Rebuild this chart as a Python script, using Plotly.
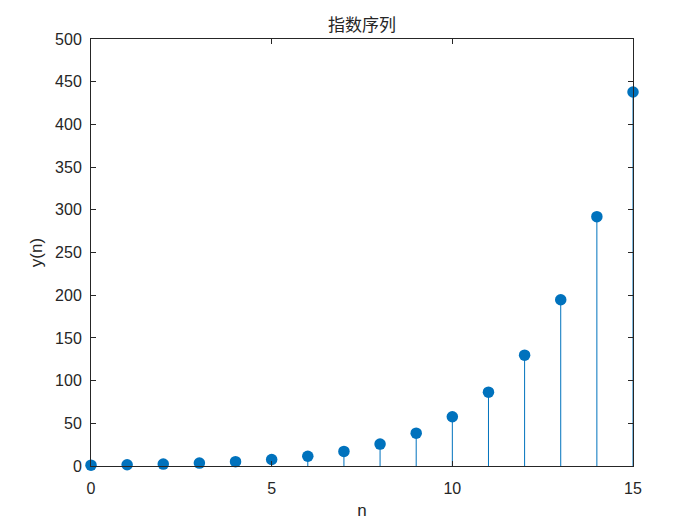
import plotly.graph_objects as go

n_vals = list(range(16))
y_vals = [1.0, 1.5, 2.25, 3.38, 5.06, 7.59, 11.39, 17.09, 25.63, 38.44,
          57.67, 86.5, 129.75, 194.62, 291.93, 437.89]
x_ticks = [0, 5, 10, 15]
y_ticks = [0, 50, 100, 150, 200, 250, 300, 350, 400, 450, 500]

color = "#0072BD"
stem_x, stem_y = [], []
for xv, yv in zip(n_vals, y_vals):
    stem_x += [xv, xv, None]
    stem_y += [0, yv, None]

fig = go.Figure()
fig.add_trace(go.Scatter(x=stem_x, y=stem_y, mode="lines",
                         line=dict(color=color, width=1), hoverinfo="skip",
                         showlegend=False, cliponaxis=False))
fig.add_trace(go.Scatter(x=n_vals, y=y_vals, mode="markers",
                         marker=dict(color=color, size=11.5), showlegend=False,
                         cliponaxis=False))

font_name = "Liberation Sans, Arial"
axis_common = dict(showline=True, linecolor="#262626", linewidth=1, mirror="ticks",
                   ticks="inside", ticklen=5, tickcolor="#262626", showgrid=False,
                   zeroline=False, tickfont=dict(family=font_name, size=16, color="#262626"))
fig.update_xaxes(range=[0, 15], tickvals=x_ticks, ticklabelstandoff=8,
                 title=dict(text="n", standoff=7,
                            font=dict(family=font_name, size=17, color="#262626")), **axis_common)
fig.update_yaxes(range=[0, 500], tickvals=y_ticks, ticklabelstandoff=5,
                 title=dict(text="y(n)", standoff=8,
                            font=dict(family=font_name, size=17, color="#262626")), **axis_common)

fig.update_layout(
    width=700, height=525,
    margin=dict(l=83, r=75, t=31, b=67, autoexpand=False),
    paper_bgcolor="white", plot_bgcolor="white",
    title=dict(text="指数序列", x=0.5, xanchor="center", xref="paper", y=0.968, yanchor="middle",
               font=dict(family="Noto Sans CJK SC", size=17, color="#262626")),
)
fig.write_html("out.html")
